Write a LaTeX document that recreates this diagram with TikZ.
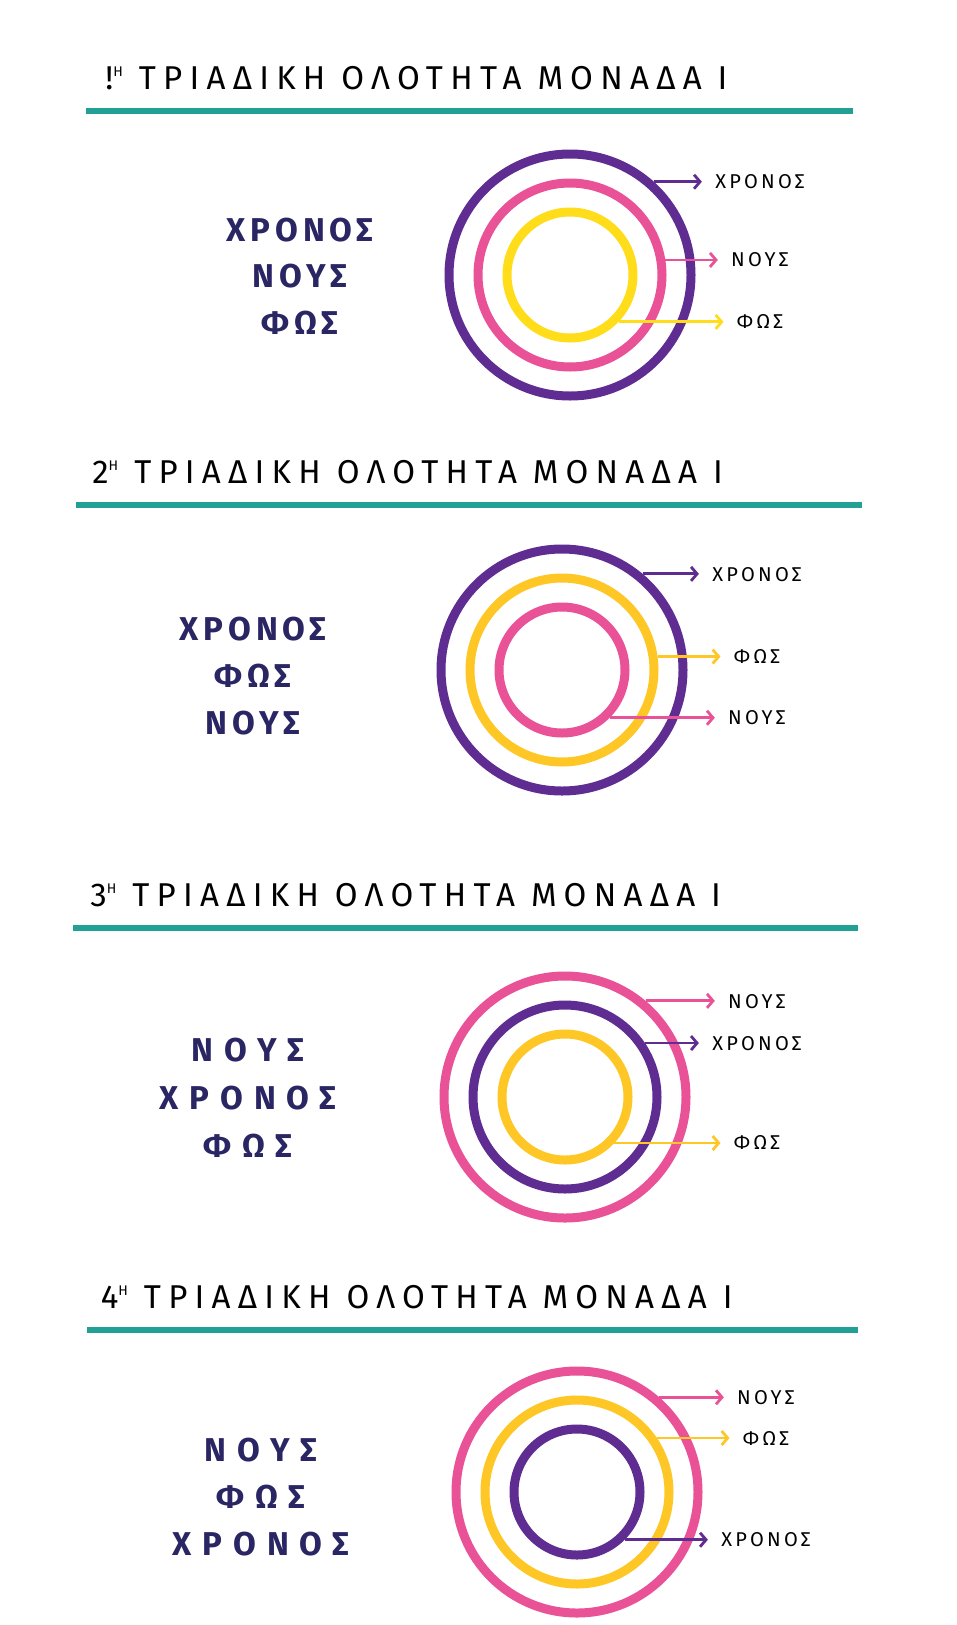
\documentclass[tikz,border=0pt]{standalone}
\usepackage{fontspec}
\setmainfont{Fira Sans}
\newfontfamily\headfont[LetterSpace=22]{Fira Sans}
\newfontfamily\wordfont[LetterSpace=15]{Fira Sans}
\newfontfamily\widefont[LetterSpace=33]{Fira Sans}
\newfontfamily\tagfont[LetterSpace=16]{Fira Sans}
\usetikzlibrary{arrows.meta}
\definecolor{ring_purple}{RGB}{95,45,145}
\definecolor{ring_pink}{RGB}{233,82,151}
\definecolor{ring_yellow}{RGB}{255,221,26}
\definecolor{ring_gold}{RGB}{254,199,38}
\definecolor{rule_teal}{RGB}{34,160,150}
\definecolor{text_navy}{RGB}{42,38,100}
\newcommand{\ordH}{\raisebox{13pt}{\fontsize{14}{14}\selectfont Η}}

\begin{document}
\begin{tikzpicture}[->,x=1pt,y=-1pt,>={Straight Barb[length=6pt,width=14pt]},line width=2.8pt]
    \tikzstyle{ring}=[draw, circle, line width=9pt, inner sep=0pt, fill=none]
    \tikzstyle{heading}=[anchor=base west, inner sep=0pt, text=black, font=\headfont\fontsize{33}{33}\selectfont]
    \tikzstyle{word}=[inner sep=0pt, text=text_navy, font=\wordfont\bfseries\fontsize{33}{33}\selectfont]
    \tikzstyle{wideword}=[style=word, font=\widefont\bfseries\fontsize{33}{33}\selectfont]
    \tikzstyle{tag}=[inner sep=0pt, text=black, font=\tagfont\fontsize{20}{20}\selectfont]
    \tikzstyle{teal_rule}=[-, draw=rule_teal, line width=5.5pt]
    \tikzstyle{pointer}=[shorten >=12pt]

    \fill[white] (0,0) rectangle (957,1625);
    \useasboundingbox (0,0) rectangle (957,1625);

    % 1
    \node[heading] (h1) at (104,89) {!\ordH\ ΤΡΙΑΔΙΚΗ ΟΛΟΤΗΤΑ ΜΟΝΑΔΑ Ι};
    \draw[teal_rule] (86,111) -- (853,111);
    \node[ring,draw=ring_purple,minimum size=242pt] (a1) at (570,275) {};
    \node[ring,draw=ring_pink,minimum size=184pt]   (b1) at (570,275) {};
    \node[ring,draw=ring_yellow,minimum size=126pt] (c1) at (570,275) {};
    \node[word] (w1a) at (300,230) {ΧΡΟΝΟΣ};
    \node[word] (w1b) at (300,276) {ΝΟΥΣ};
    \node[word] (w1c) at (300,323) {ΦΩΣ};
    \node[tag] (t1a) at (760,182.1) {ΧΡΟΝΟΣ};
    \node[tag] (t1b) at (760,260.0) {ΝΟΥΣ};
    \node[tag] (t1c) at (760,321.5) {ΦΩΣ};
    \path
     (a1.48)  edge[pointer,ring_purple] (a1.48 -| t1a.west)
     (b1.9)   edge[pointer,ring_pink]   (b1.9 -| t1b.west)
     (c1.-44) edge[pointer,ring_yellow] (c1.-44 -| t1c.west)
     ;

    % 2
    \node[heading] (h2) at (91,483) {2\ordH\ ΤΡΙΑΔΙΚΗ ΟΛΟΤΗΤΑ ΜΟΝΑΔΑ Ι};
    \draw[teal_rule] (76,505) -- (862,505);
    \node[ring,draw=ring_purple,minimum size=242pt] (a2) at (562,670) {};
    \node[ring,draw=ring_gold,minimum size=184pt]   (b2) at (562,670) {};
    \node[ring,draw=ring_pink,minimum size=126pt]   (c2) at (562,670) {};
    \node[word] (w2a) at (253,629) {ΧΡΟΝΟΣ};
    \node[word] (w2b) at (253,676) {ΦΩΣ};
    \node[word] (w2c) at (253,723) {ΝΟΥΣ};
    \node[tag] (t2a) at (757,574.2) {ΧΡΟΝΟΣ};
    \node[tag] (t2b) at (757,656.6) {ΦΩΣ};
    \node[tag] (t2c) at (757,717.4) {ΝΟΥΣ};
    \path
     (a2.50)  edge[pointer,ring_purple] (a2.50 -| t2a.west)
     (b2.8)   edge[pointer,ring_gold]   (b2.8 -| t2b.west)
     (c2.-45) edge[pointer,ring_pink]   (c2.-45 -| t2c.west)
     ;

    % 3
    \node[heading] (h3) at (89,906) {3\ordH\ ΤΡΙΑΔΙΚΗ ΟΛΟΤΗΤΑ ΜΟΝΑΔΑ Ι};
    \draw[teal_rule] (73,928) -- (858,928);
    \node[ring,draw=ring_pink,minimum size=242pt]   (a3) at (565,1097) {};
    \node[ring,draw=ring_purple,minimum size=184pt] (b3) at (565,1097) {};
    \node[ring,draw=ring_gold,minimum size=126pt]   (c3) at (565,1097) {};
    \node[wideword] (w3a) at (248,1050) {ΝΟΥΣ};
    \node[wideword] (w3b) at (248,1098) {ΧΡΟΝΟΣ};
    \node[wideword] (w3c) at (248,1146) {ΦΩΣ};
    \node[tag] (t3a) at (757,1001.2) {ΝΟΥΣ};
    \node[tag] (t3b) at (757,1043.3) {ΧΡΟΝΟΣ};
    \node[tag] (t3c) at (757,1142.7) {ΦΩΣ};
    \path
     (a3.50)  edge[pointer,ring_pink]   (a3.50 -| t3a.west)
     (b3.34)  edge[pointer,ring_purple] (b3.34 -| t3b.west)
     (c3.-43) edge[pointer,ring_gold]   (c3.-43 -| t3c.west)
     ;

    % 4
    \node[heading] (h4) at (99.5,1308) {4\ordH\ ΤΡΙΑΔΙΚΗ ΟΛΟΤΗΤΑ ΜΟΝΑΔΑ Ι};
    \draw[teal_rule] (87,1330) -- (858,1330);
    \node[ring,draw=ring_pink,minimum size=242pt]   (a4) at (577,1492) {};
    \node[ring,draw=ring_gold,minimum size=184pt]   (b4) at (577,1492) {};
    \node[ring,draw=ring_purple,minimum size=126pt] (c4) at (577,1492) {};
    \node[wideword] (w4a) at (261,1450) {ΝΟΥΣ};
    \node[wideword] (w4b) at (261,1497) {ΦΩΣ};
    \node[wideword] (w4c) at (261,1544) {ΧΡΟΝΟΣ};
    \node[tag] (t4a) at (766,1397.7) {ΝΟΥΣ};
    \node[tag] (t4b) at (766,1438.3) {ΦΩΣ};
    \node[tag] (t4c) at (766,1539.4) {ΧΡΟΝΟΣ};
    \path
     (a4.49)  edge[pointer,ring_pink]   (a4.49 -| t4a.west)
     (b4.34)  edge[pointer,ring_gold]   (b4.34 -| t4b.west)
     (c4.-45) edge[pointer,ring_purple] (c4.-45 -| t4c.west)
     ;
\end{tikzpicture}
\end{document}
